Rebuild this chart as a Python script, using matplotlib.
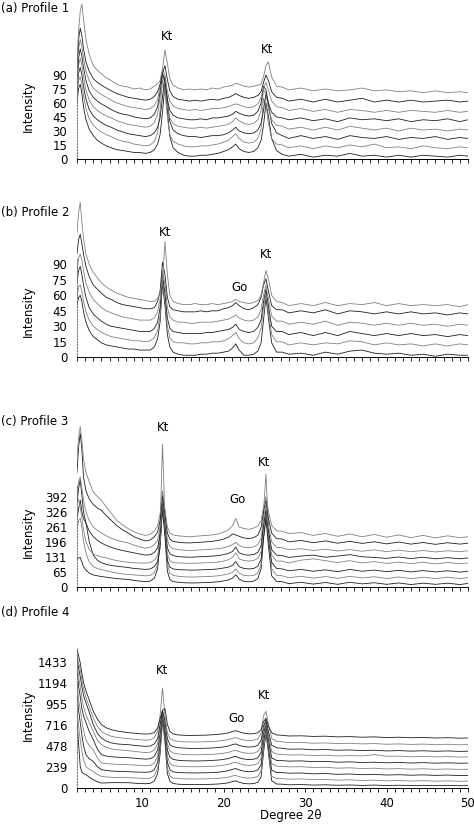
import matplotlib
matplotlib.use("Agg")
import matplotlib.pyplot as plt
from matplotlib.ticker import MultipleLocator

# shared 2-theta grid (degrees)
two_theta = [2.0, 2.2, 2.4, 2.6, 2.8, 3.1, 3.5, 4.0, 4.5, 5.0,
             5.6, 6.2, 6.9, 7.6, 8.3, 9.0, 9.7, 10.4, 11.0, 11.5,
             11.9, 12.2, 12.5, 12.8, 13.1, 13.4, 13.8, 14.4, 15.1, 15.8,
             16.5, 17.2, 17.9, 18.6, 19.3, 20.0, 20.6, 21.1, 21.5, 21.9,
             22.5, 23.1, 23.7, 24.2, 24.6, 24.9, 25.2, 25.5, 25.9, 26.5,
             27.2, 28.0, 29.5, 31.0, 32.5, 34.0, 35.5, 37.0, 38.5, 40.0,
             41.5, 43.0, 44.5, 46.0, 47.5, 49.0, 50.0]

# ---- Profile 1 (bottom trace first)
profile1 = [
    [60, 76, 80, 70, 56, 42, 32, 25, 20, 17,
     14, 12, 10, 9, 8, 7, 7, 6, 7, 10,
     16, 26, 50, 80, 52, 24, 12, 7, 4, 3,
     3, 4, 4, 5, 6, 8, 10, 13, 16, 11,
     8, 7, 8, 12, 20, 36, 60, 46, 22, 9,
     5, 3, 5, 2, 4, 3, 6, 3, 4, 2,
     4, 2, 4, 3, 2, 4, 3],
    [68, 84, 88, 80, 68, 54, 43, 36, 32, 29,
     26, 24, 21, 19, 18, 16, 15, 14, 15, 19,
     28, 52, 85, 72, 44, 26, 19, 16, 14, 13,
     13, 14, 14, 15, 16, 18, 20, 24, 27, 22,
     18, 17, 18, 22, 32, 65, 58, 38, 22, 16,
     15, 12, 14, 11, 14, 12, 15, 13, 16, 12,
     13, 11, 14, 12, 11, 13, 12],
    [74, 92, 98, 90, 78, 64, 53, 46, 42, 39,
     36, 34, 31, 29, 27, 26, 25, 24, 25, 28,
     34, 44, 66, 88, 62, 40, 31, 27, 25, 24,
     24, 23, 24, 25, 25, 26, 28, 31, 34, 30,
     28, 27, 28, 31, 38, 52, 70, 58, 38, 28,
     25, 22, 25, 22, 24, 21, 25, 23, 22, 24,
     21, 23, 22, 24, 21, 23, 22],
    [80, 100, 108, 100, 88, 74, 63, 56, 52, 49,
     46, 44, 41, 39, 37, 36, 35, 34, 35, 39,
     48, 66, 90, 80, 58, 44, 38, 35, 34, 33,
     33, 34, 33, 34, 35, 36, 37, 40, 44, 41,
     38, 37, 38, 42, 52, 74, 70, 54, 42, 36,
     35, 32, 34, 31, 34, 31, 35, 33, 31, 33,
     30, 33, 31, 32, 30, 32, 31],
    [86, 108, 118, 110, 98, 84, 73, 66, 62, 59,
     56, 53, 50, 48, 47, 45, 44, 43, 44, 48,
     56, 72, 92, 84, 64, 52, 47, 44, 43, 42,
     42, 43, 42, 44, 44, 45, 46, 48, 51, 49,
     47, 46, 47, 51, 60, 78, 74, 60, 50, 45,
     44, 42, 44, 41, 43, 40, 44, 42, 43, 41,
     43, 40, 42, 41, 43, 40, 42],
    [92, 118, 128, 120, 108, 94, 84, 76, 72, 69,
     66, 63, 60, 58, 56, 55, 54, 53, 54, 57,
     64, 78, 96, 90, 72, 62, 57, 54, 53, 52,
     53, 52, 53, 54, 54, 55, 56, 58, 59, 58,
     56, 55, 56, 59, 66, 76, 82, 74, 62, 56,
     55, 52, 54, 51, 53, 50, 53, 52, 50, 52,
     50, 52, 51, 50, 52, 50, 51],
    [98, 128, 140, 132, 118, 104, 94, 86, 82, 79,
     76, 73, 70, 68, 66, 65, 64, 63, 64, 67,
     72, 80, 92, 100, 85, 73, 67, 64, 63, 62,
     63, 62, 63, 64, 63, 65, 66, 68, 70, 68,
     66, 65, 66, 68, 72, 82, 90, 84, 72, 66,
     65, 62, 64, 61, 64, 61, 63, 65, 61, 63,
     61, 63, 61, 62, 63, 61, 62],
    [105, 138, 158, 166, 150, 128, 112, 100, 95, 91,
     87, 84, 80, 78, 77, 75, 76, 74, 75, 78,
     81, 84, 96, 117, 102, 86, 79, 76, 74, 75,
     74, 75, 74, 76, 75, 77, 78, 79, 81, 80,
     78, 77, 78, 79, 80, 88, 100, 104, 88, 78,
     77, 74, 76, 73, 75, 73, 74, 76, 73, 74,
     72, 73, 71, 73, 71, 72, 71],
]

# ---- Profile 2
profile2 = [
    [50, 58, 60, 54, 44, 34, 26, 20, 17, 14,
     12, 11, 10, 9, 8, 8, 7, 7, 7, 10,
     18, 34, 72, 50, 22, 10, 5, 3, 2, 2,
     2, 3, 3, 4, 4, 5, 6, 9, 13, 7,
     2, 2, 3, 6, 14, 36, 58, 38, 14, 5,
     5, 3, 4, 2, 5, 3, 6, 7, 4, 3,
     4, 2, 3, 1, 3, 2, 2],
    [58, 68, 70, 64, 54, 44, 36, 30, 27, 24,
     22, 20, 19, 18, 17, 16, 16, 15, 16, 19,
     26, 40, 76, 56, 30, 19, 15, 14, 14, 13,
     13, 14, 14, 15, 15, 16, 18, 21, 24, 18,
     14, 13, 14, 19, 28, 48, 62, 44, 22, 15,
     15, 12, 14, 12, 14, 13, 16, 15, 12, 14,
     12, 13, 11, 13, 11, 13, 12],
    [72, 84, 88, 80, 70, 58, 48, 42, 38, 35,
     32, 30, 29, 28, 27, 26, 25, 25, 25, 28,
     34, 48, 80, 62, 38, 28, 25, 24, 23, 23,
     23, 23, 24, 24, 25, 26, 27, 29, 32, 27,
     25, 24, 25, 29, 36, 54, 66, 50, 30, 25,
     25, 22, 24, 21, 24, 21, 25, 23, 21, 23,
     21, 23, 21, 22, 20, 22, 21],
    [84, 96, 100, 94, 84, 72, 63, 56, 52, 48,
     45, 43, 41, 39, 38, 37, 36, 36, 36, 38,
     44, 56, 84, 70, 48, 39, 36, 34, 34, 33,
     33, 34, 34, 34, 35, 36, 37, 39, 41, 38,
     36, 35, 36, 39, 46, 60, 70, 56, 40, 35,
     35, 32, 34, 32, 35, 31, 34, 33, 31, 33,
     31, 33, 31, 32, 30, 32, 31],
    [100, 114, 119, 110, 100, 88, 78, 70, 66, 62,
     58, 56, 53, 51, 50, 49, 48, 47, 47, 48,
     54, 64, 92, 80, 58, 49, 46, 45, 44, 44,
     44, 45, 44, 45, 45, 47, 48, 50, 53, 50,
     47, 46, 48, 51, 58, 70, 76, 64, 50, 46,
     46, 43, 45, 43, 46, 42, 45, 44, 42, 44,
     42, 44, 42, 43, 41, 43, 42],
    [120, 140, 150, 131, 115, 100, 90, 82, 77, 72,
     68, 65, 62, 60, 58, 57, 56, 55, 54, 54,
     57, 62, 74, 112, 80, 60, 54, 52, 51, 51,
     52, 51, 51, 52, 51, 52, 53, 54, 56, 54,
     53, 52, 53, 55, 60, 72, 84, 76, 60, 54,
     53, 50, 52, 50, 53, 50, 52, 51, 53, 50,
     52, 50, 51, 50, 51, 49, 51],
]

# ---- Profile 3
profile3 = [
    [120, 128, 130, 110, 90, 75, 62, 54, 50, 47,
     44, 41, 38, 36, 34, 30, 27, 25, 27, 40,
     80, 200, 340, 220, 70, 34, 25, 22, 20, 19,
     19, 20, 21, 22, 24, 28, 32, 40, 55, 36,
     26, 24, 27, 38, 80, 210, 300, 180, 50, 26,
     24, 16, 22, 14, 21, 13, 22, 15, 20, 13,
     19, 12, 18, 13, 18, 12, 17],
    [250, 290, 300, 260, 200, 150, 110, 90, 82, 77,
     72, 67, 62, 58, 56, 54, 52, 50, 52, 64,
     100, 260, 622, 300, 100, 62, 52, 48, 46, 45,
     45, 46, 47, 48, 50, 54, 58, 66, 80, 62,
     52, 50, 52, 62, 100, 330, 493, 260, 80, 52,
     50, 42, 48, 40, 47, 39, 48, 41, 46, 38,
     45, 38, 44, 38, 44, 38, 42],
    [300, 340, 380, 330, 300, 280, 200, 140, 118, 107,
     100, 95, 92, 89, 86, 82, 80, 78, 80, 90,
     112, 170, 350, 240, 118, 88, 80, 77, 76, 75,
     75, 76, 77, 78, 80, 84, 88, 96, 112, 90,
     82, 80, 82, 92, 122, 220, 310, 210, 108, 82,
     80, 72, 78, 70, 76, 68, 78, 70, 75, 68,
     74, 67, 73, 67, 72, 66, 70],
    [392, 380, 350, 300, 250, 200, 165, 145, 138, 133,
     128, 122, 116, 112, 109, 107, 106, 105, 108, 118,
     140, 200, 370, 260, 145, 116, 108, 106, 105, 104,
     105, 106, 107, 108, 110, 114, 120, 130, 150, 124,
     116, 114, 117, 126, 155, 250, 330, 230, 140, 114,
     114, 106, 118, 124, 116, 108, 116, 106, 112, 104,
     110, 103, 109, 102, 108, 103, 106],
    [360, 430, 470, 400, 330, 280, 245, 220, 205, 193,
     182, 174, 166, 160, 155, 150, 145, 140, 142, 152,
     172, 230, 380, 280, 172, 146, 138, 134, 132, 131,
     132, 133, 134, 136, 138, 142, 148, 156, 175, 150,
     142, 140, 143, 152, 180, 270, 340, 250, 164, 140,
     138, 130, 136, 140, 131, 136, 142, 133, 130, 126,
     132, 125, 131, 124, 129, 124, 128],
    [400, 460, 480, 430, 380, 330, 290, 262, 248, 236,
     224, 214, 205, 198, 193, 184, 176, 170, 174, 186,
     206, 258, 390, 300, 205, 178, 168, 164, 162, 160,
     161, 163, 164, 166, 168, 172, 178, 186, 196, 182,
     174, 172, 176, 186, 214, 300, 360, 270, 198, 174,
     172, 164, 168, 160, 166, 158, 164, 157, 163, 155,
     162, 155, 160, 154, 159, 155, 159],
    [500, 610, 670, 600, 480, 420, 385, 360, 345, 335,
     312, 292, 268, 250, 236, 220, 210, 202, 206, 220,
     240, 290, 400, 320, 236, 210, 200, 196, 194, 193,
     195, 196, 198, 200, 204, 210, 218, 232, 228, 222,
     215, 212, 216, 226, 260, 330, 380, 300, 236, 212,
     210, 198, 204, 194, 202, 192, 200, 191, 198, 189,
     197, 188, 195, 187, 194, 188, 192],
    [560, 650, 700, 640, 560, 500, 460, 415, 395, 378,
     350, 322, 290, 272, 255, 242, 232, 226, 230, 245,
     268, 320, 420, 340, 262, 236, 228, 224, 222, 220,
     222, 224, 226, 228, 232, 240, 250, 268, 300, 262,
     256, 252, 258, 266, 290, 350, 395, 330, 270, 246,
     244, 234, 238, 226, 234, 222, 232, 220, 230, 218,
     228, 216, 226, 215, 224, 216, 220],
]

# ---- Profile 4
profile4 = [
    [750, 500, 239, 180, 160, 150, 120, 91, 68, 53,
     55, 57, 58, 57, 57, 52, 48, 45, 50, 76,
     160, 380, 760, 520, 160, 76, 48, 40, 37, 36,
     35, 36, 37, 39, 42, 48, 56, 70, 78, 62,
     48, 44, 47, 62, 120, 400, 620, 400, 80, 42,
     40, 33, 36, 30, 33, 28, 31, 26, 30, 25,
     28, 24, 27, 23, 27, 23, 25],
    [900, 700, 546, 420, 320, 239, 210, 185, 150, 129,
     122, 118, 116, 115, 114, 111, 108, 105, 110, 136,
     220, 440, 780, 560, 220, 136, 110, 104, 101, 100,
     99, 100, 101, 103, 106, 112, 120, 134, 140, 126,
     114, 110, 113, 128, 190, 460, 660, 440, 130, 104,
     103, 97, 100, 91, 94, 86, 90, 82, 86, 78,
     82, 76, 80, 74, 78, 73, 75],
    [1050, 880, 740, 600, 480, 376, 330, 299, 240, 205,
     196, 190, 186, 184, 182, 179, 177, 175, 180, 205,
     290, 500, 800, 600, 290, 205, 180, 173, 170, 169,
     168, 169, 170, 172, 176, 184, 194, 210, 218, 202,
     188, 182, 186, 202, 262, 520, 690, 480, 200, 172,
     172, 165, 167, 158, 161, 152, 156, 148, 152, 144,
     148, 142, 146, 140, 144, 138, 140],
    [1200, 1000, 888, 760, 650, 546, 480, 432, 340, 281,
     274, 270, 266, 264, 262, 258, 254, 250, 255, 280,
     360, 560, 820, 640, 360, 278, 252, 244, 240, 239,
     238, 239, 241, 244, 248, 256, 266, 282, 290, 274,
     260, 254, 258, 274, 334, 580, 710, 520, 272, 244,
     242, 237, 239, 230, 232, 222, 226, 218, 222, 213,
     217, 211, 215, 209, 213, 208, 210],
    [1350, 1150, 1035, 900, 820, 740, 640, 546, 440, 376,
     360, 352, 347, 344, 341, 336, 330, 325, 330, 356,
     430, 620, 840, 680, 430, 350, 322, 312, 307, 305,
     304, 305, 307, 310, 314, 322, 332, 348, 356, 340,
     326, 320, 324, 340, 400, 620, 730, 560, 340, 310,
     308, 302, 305, 296, 299, 290, 294, 286, 290, 283,
     287, 281, 285, 279, 283, 278, 280],
    [1420, 1260, 1149, 1020, 920, 830, 740, 641, 540, 489,
     460, 442, 432, 426, 421, 414, 406, 400, 404, 430,
     500, 680, 860, 720, 500, 420, 394, 384, 378, 375,
     374, 375, 377, 380, 384, 392, 402, 418, 426, 410,
     396, 390, 394, 410, 470, 660, 750, 600, 412, 382,
     378, 372, 374, 366, 369, 361, 365, 362, 376, 358,
     359, 352, 356, 350, 354, 348, 350],
    [1480, 1360, 1263, 1150, 1050, 967, 860, 717, 620, 565,
     530, 510, 498, 493, 489, 482, 476, 470, 474, 498,
     560, 720, 880, 760, 560, 490, 466, 456, 450, 447,
     446, 447, 449, 452, 456, 464, 474, 490, 498, 482,
     468, 462, 466, 482, 540, 700, 770, 640, 484, 454,
     448, 438, 440, 431, 434, 426, 429, 422, 426, 418,
     422, 416, 420, 414, 418, 413, 415],
    [1520, 1420, 1343, 1230, 1130, 1024, 920, 793, 700, 641,
     605, 585, 572, 564, 558, 552, 546, 540, 545, 570,
     640, 820, 1134, 820, 620, 560, 538, 528, 522, 520,
     520, 521, 523, 526, 530, 538, 548, 562, 570, 556,
     542, 536, 540, 555, 620, 820, 868, 720, 560, 528,
     522, 513, 515, 506, 509, 502, 505, 498, 502, 494,
     498, 492, 496, 490, 494, 488, 490],
    [1580, 1500, 1420, 1300, 1200, 1100, 1000, 870, 780, 717,
     680, 660, 645, 635, 626, 620, 614, 610, 612, 630,
     680, 780, 880, 900, 720, 640, 612, 600, 596, 594,
     595, 596, 598, 602, 606, 614, 624, 640, 648, 636,
     620, 612, 614, 625, 660, 750, 790, 700, 625, 600,
     596, 588, 590, 583, 586, 578, 581, 574, 578, 570,
     574, 568, 572, 565, 569, 563, 565],
]

titles = ["(a) Profile 1", "(b) Profile 2", "(c) Profile 3", "(d) Profile 4"]
ytick_labels = [
    ["0", "15", "30", "45", "60", "75", "90"],
    ["0", "15", "30", "45", "60", "75", "90"],
    ["0", "65", "131", "196", "261", "326", "392"],
    ["0", "239", "478", "716", "955", "1194", "1433"],
]
ytick_step = [15, 15, 65.33, 238.83]
# peak labels: (text, 2theta, intensity)
peak_labels = [
    [("Kt", 13.0, 131), ("Kt", 25.3, 117)],
    [("Kt", 12.8, 121), ("Go", 21.9, 68), ("Kt", 25.2, 99)],
    [("Kt", 12.6, 696), ("Go", 21.7, 382), ("Kt", 25.0, 543)],
    [("Kt", 12.5, 1331), ("Go", 21.6, 782), ("Kt", 24.95, 1050)],
]

profiles = [profile1, profile2, profile3, profile4]
ymax = [170, 150, 710, 1600]
spine_top = [110, 95, 450, 1570]
# axes boxes in figure fraction
boxes = [
    [0.1624, 0.8073, 0.8249, 0.1924],
    [0.1624, 0.5669, 0.8249, 0.1879],
    [0.1624, 0.2881, 0.8249, 0.1978],
    [0.1624, 0.0452, 0.8249, 0.1706],
]
title_y = [0.9903, 0.7430, 0.4885, 0.2570]
ylabel_y = [0.33, 0.295, 0.34, 0.517]

fig = plt.figure(figsize=(4.74, 8.25), dpi=100)
colors = ["#1e1e1e", "#808080"]

for i in range(4):
    ax = fig.add_axes(boxes[i])
    for k, trace in enumerate(profiles[i]):
        ax.plot(two_theta, trace, color=colors[k % 2], lw=0.6)
    ax.set_xlim(2, 50)
    ax.set_ylim(0, ymax[i])
    ax.set_yticks([ytick_step[i] * n for n in range(7)])
    ax.set_yticklabels(ytick_labels[i])
    ax.tick_params(axis="y", length=0, pad=7, labelsize=8.5)
    ax.xaxis.set_major_locator(MultipleLocator(10))
    ax.xaxis.set_minor_locator(MultipleLocator(1))
    ax.tick_params(axis="x", which="both", direction="out", length=3, width=0.6, labelsize=8.5)
    if i < 3:
        ax.tick_params(axis="x", labelbottom=False)
    ax.spines["top"].set_visible(False)
    ax.spines["right"].set_visible(False)
    ax.spines["bottom"].set_linewidth(0.7)
    ax.spines["left"].set_linestyle(":")
    ax.spines["left"].set_color("#777777")
    ax.spines["left"].set_bounds(0, spine_top[i])
    ax.set_ylabel("Intensity", fontsize=8.5)
    ax.yaxis.set_label_coords(-0.108, ylabel_y[i])
    for txt, px, py in peak_labels[i]:
        ax.text(px, py, txt, ha="center", va="center", fontsize=8.5)
    fig.text(0.002, title_y[i], titles[i], ha="left", va="center", fontsize=8.5)

fig.text(0.614, 0.0121, "Degree 2θ", ha="center", va="center", fontsize=8.5)

fig.savefig("out.png", dpi=100)
